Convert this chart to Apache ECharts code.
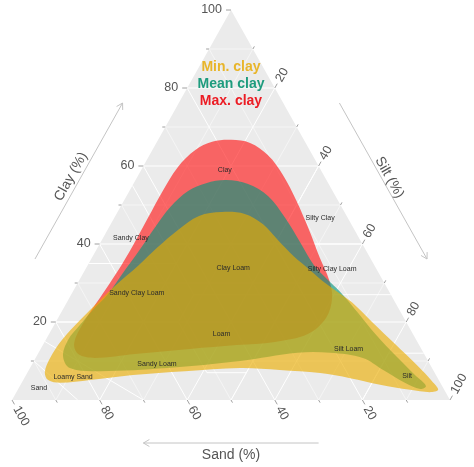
<!DOCTYPE html>
<html><head><meta charset="utf-8">
<script src="https://cdn.jsdelivr.net/npm/echarts@6/dist/echarts.min.js"></script>
<style>html,body{margin:0;padding:0;background:#fff}#c{width:474px;height:467px}</style>
</head><body><div id="c"></div>
<script>
// All points are ternary compositions: [sand, silt, clay] (%)
const maxClay = [
 [16.6,16.7,66.7],[12.7,21.4,65.9],[10.2,27.0,62.8],[9.3,33.0,57.7],[9.5,39.2,51.3],[10.3,45.6,44.1],
 [11.5,52.1,36.4],[12.2,57.0,30.8],[13.8,60.0,26.2],[17.8,61.2,21.0],[24.0,59.1,16.9],[32.5,52.6,14.9],
 [41.6,44.3,14.1],[52.8,34.1,13.1],[66.0,22.2,11.8],[75.7,13.5,10.8],[79.0,9.2,11.8],[78.5,6.9,14.6],
 [73.6,6.4,20.0],[66.8,7.0,26.2],[59.6,7.6,32.8],[52.5,7.8,39.7],[45.6,7.7,46.7],[39.1,7.6,53.3],
 [32.3,8.0,59.7],[26.1,9.8,64.1],[21.2,12.6,66.2]
];
const meanClay = [
 [22.9,20.7,56.4],[18.4,26.2,55.4],[15.4,32.3,52.3],[14.3,39.0,46.7],[14.0,45.7,40.3],[13.8,51.6,34.6],
 [12.6,56.4,31.0],[11.2,61.1,27.7],[9.9,67.5,22.6],[8.6,74.5,16.9],[6.6,82.4,11.0],[4.8,88.8,6.4],
 [3.7,92.7,3.6],[5.4,91.8,2.8],[8.1,87.5,4.4],[11.4,80.9,7.7],[14.5,74.7,10.8],[21.3,66.6,12.1],
 [28.8,59.1,12.1],[42.9,47.1,10.0],[60.5,31.3,8.2],[76.2,16.4,7.4],[82.7,9.1,8.2],[82.7,6.0,11.3],
 [79.5,5.1,15.4],[74.9,5.9,19.2],[70.0,6.9,23.1],[64.8,8.3,26.9],[58.9,9.0,32.1],[51.6,9.9,38.5],
 [45.4,10.5,44.1],[39.1,11.4,49.5],[33.0,13.4,53.6],[27.9,16.5,55.6]
];
const minClay = [
 [28.0,23.8,48.2],[23.0,29.3,47.7],[20.2,34.7,45.1],[18.8,40.2,41.0],[17.3,45.8,36.9],[15.3,51.4,33.3],
 [13.5,56.5,30.0],[11.8,60.5,27.7],[9.9,65.0,25.1],[7.8,72.2,20.0],[5.4,80.2,14.4],[3.0,88.3,8.7],
 [1.7,93.4,4.9],[1.4,96.0,2.6],[3.6,94.4,2.0],[7.8,89.6,2.6],[14.0,82.1,3.9],[20.0,74.4,5.6],
 [26.2,66.9,6.9],[35.0,57.3,7.7],[43.8,48.0,8.2],[56.8,35.8,7.4],[69.2,24.4,6.4],[79.6,15.3,5.1],
 [86.8,8.8,4.4],[89.2,5.7,5.1],[88.9,3.9,7.2],[85.9,3.3,10.8],[80.9,3.7,15.4],[74.2,5.3,20.5],
 [68.1,7.0,24.9],[61.5,9.0,29.5],[54.0,11.6,34.4],[47.1,13.7,39.2],[40.3,16.1,43.6],[33.7,19.1,47.2]
];
const seriesNames = ['Min. clay', 'Mean clay', 'Max. clay'];
const tickValues = [10, 20, 30, 40, 50, 60, 70, 80, 90, 100];
const tickLabels = [20, 40, 60, 80, 100];
const axisTitles = ['Clay (%)', 'Silt (%)', 'Sand (%)'];
const classNames = ['Clay', 'Sandy Clay', 'Silty Clay', 'Clay Loam', 'Silty Clay Loam', 'Sandy Clay Loam',
  'Loam', 'Silt Loam', 'Sandy Loam', 'Loamy Sand', 'Sand', 'Silt'];
const classPos = [
 [21.9,19.1,59.0],[52.1,6.4,41.5],[6.3,47.0,46.7],[32.6,33.6,33.8],[10.1,56.3,33.6],[57.8,14.8,27.4],
 [43.7,39.4,16.9],[16.6,70.3,13.1],[62.3,28.5,9.2],[83.0,11.0,5.9],[92.3,4.6,3.1],[6.7,87.1,6.2]
];
const usdaSegments = [
 [[45,0,55],[45,28,27]], [[45,15,40],[0,60,40]], [[0,40,60],[20,40,40]], [[65,0,35],[45,20,35]],
 [[45,28,27],[0,73,27]], [[20,40,40],[20,53,27]], [[80,0,20],[52,28,20]], [[52,28,20],[45,28,27]],
 [[52,28,20],[52,41,7]], [[52,41,7],[43,50,7]], [[50,50,0],[23,50,27]], [[20,80,0],[8,80,12]],
 [[8,80,12],[0,88,12]], [[85,0,15],[70,30,0]], [[90,0,10],[85,15,0]]
];
const legendAnchor = [7.3, 7.3, 85.4];

// ---- styles ----
const FONT = "'Liberation Sans', Arial, sans-serif";
const fillColors = ['rgba(235,172,0,0.63)', 'rgba(0,150,125,0.62)', 'rgba(255,20,20,0.63)'];
const legendColors = ['#E8B52A', '#1E9C7E', '#EC1C24'];

const tern = p => [p[1] + p[2] / 2, p[2]];
const axisDefs = [
  { point: v => [100 - v, 0, v], other: v => [0, 100 - v, v] },   // clay
  { point: v => [0, v, 100 - v], other: v => [100 - v, v, 0] },   // silt
  { point: v => [v, 100 - v, 0], other: v => [v, 0, 100 - v] }    // sand
];

function mk(z, draw) {
  return { type: 'custom', coordinateSystem: 'cartesian2d', data: [[0, 0]], encode: { x: 0, y: 1 },
    z: z, silent: true, clip: false, animation: false, renderItem: (params, api) => draw(api) };
}
const line = (a, b, stroke, w) => ({ type: 'line', shape: { x1: a[0], y1: a[1], x2: b[0], y2: b[1] }, style: { stroke: stroke, lineWidth: w } });
const unit = (a, b) => { const dx = b[0] - a[0], dy = b[1] - a[1], l = Math.hypot(dx, dy); return [dx / l, dy / l]; };
const add = (p, d, k) => [p[0] + d[0] * k, p[1] + d[1] * k];
const txt = (p, text, opt) => ({ type: 'text', x: p[0], y: p[1], rotation: opt.rot || 0,
  style: { text: text, fill: opt.fill, font: opt.font, align: opt.align || 'center', verticalAlign: 'middle',
    textAlign: opt.align || 'center', textVerticalAlign: 'middle' } });

const series = [];
// background triangle
series.push(mk(1, api => ({ type: 'polygon', shape: { points: [[100,0,0],[0,100,0],[0,0,100]].map(t => api.coord(tern(t))) }, style: { fill: '#EBEBEB' } })));
// grid lines
series.push(mk(2, api => {
  const ch = [];
  for (let v = 10; v < 100; v += 10) {
    axisDefs.forEach(a => ch.push(line(api.coord(tern(a.point(v))), api.coord(tern(a.other(v))), '#FFFFFF', v % 20 === 0 ? 1 : 0.5)));
  }
  return { type: 'group', children: ch };
}));
// USDA class boundaries
series.push(mk(3, api => ({ type: 'group', children: usdaSegments.map(s => line(api.coord(tern(s[0])), api.coord(tern(s[1])), '#FFFFFF', 1)) })));
// fills: max, mean, min (min on top)
[[maxClay, 2], [meanClay, 1], [minClay, 0]].forEach((d, i) => {
  series.push(mk(4 + i, api => ({ type: 'polygon', shape: { points: d[0].map(t => api.coord(tern(t))), smooth: 0.35 },
    style: { fill: fillColors[d[1]] } })));
});
// class labels
series.push(mk(8, api => ({ type: 'group', children: classNames.map((n, i) => txt(api.coord(tern(classPos[i])), n,
  { fill: '#2A2A2A', font: '7px ' + FONT })) })));
// ticks and tick labels
series.push(mk(9, api => {
  const ch = [];
  axisDefs.forEach((a, ai) => {
    const d = unit(api.coord(tern(a.other(50))), api.coord(tern(a.point(50))));
    tickValues.forEach(v => {
      const p = api.coord(tern(a.point(v)));
      const major = tickLabels.indexOf(v) >= 0;
      ch.push(line(p, add(p, d, major ? 5 : 3), '#A0A0A0', 1));
      if (major) {
        if (d[0] < -0.5) ch.push(txt(add(p, d, 9), String(v), { fill: '#555555', font: '12.5px ' + FONT, align: 'right' }));
        else ch.push(txt(add(p, d, 8), String(v), { fill: '#555555', font: '12.5px ' + FONT, align: 'left', rot: -Math.atan2(d[1], d[0]) }));
      }
    });
  });
  return { type: 'group', children: ch };
}));
// axis titles with arrows
const arrowOff = [49, 49, 43], titleOff = [58, 56, 55];
series.push(mk(10, api => {
  const ch = [];
  const cen = api.coord(tern([100 / 3, 100 / 3, 100 / 3]));
  axisDefs.forEach((a, ai) => {
    const p0 = api.coord(tern(a.point(0))), p1 = api.coord(tern(a.point(100)));
    const e = unit(p0, p1);
    let n = [e[1], -e[0]];
    const pm = api.coord(tern(a.point(50)));
    if ((pm[0] - cen[0]) * n[0] + (pm[1] - cen[1]) * n[1] < 0) n = [-n[0], -n[1]];
    const s = add(api.coord(tern(a.point(30))), n, arrowOff[ai]);
    const t = add(api.coord(tern(a.point(70))), n, arrowOff[ai]);
    ch.push(line(s, t, '#C4C4C4', 1));
    const u = unit(s, t), pp = [-u[1], u[0]];
    ch.push(line(t, add(add(t, u, -6), pp, 3.5), '#C4C4C4', 1));
    ch.push(line(t, add(add(t, u, -6), pp, -3.5), '#C4C4C4', 1));
    let ang = -Math.atan2(e[1], e[0]);
    if (e[0] < 0) ang += Math.PI;
    ch.push(txt(add(pm, n, titleOff[ai]), axisTitles[ai], { fill: '#555555', font: '14px ' + FONT, rot: ang }));
  });
  return { type: 'group', children: ch };
}));
// coloured series titles
series.push(mk(11, api => {
  const c = api.coord(tern(legendAnchor));
  return { type: 'group', children: seriesNames.map((nm, i) => txt([c[0], c[1] + 17 * i], nm,
    { fill: legendColors[i], font: 'bold 14px ' + FONT })) };
}));

const chart = echarts.init(document.getElementById('c'), null, { renderer: 'canvas' });
chart.setOption({
  animation: false,
  grid: { left: 12, top: 10, width: 438, height: 390 },
  xAxis: { type: 'value', min: 0, max: 100, show: false },
  yAxis: { type: 'value', min: 0, max: 100, show: false },
  series: series
});
</script></body></html>
